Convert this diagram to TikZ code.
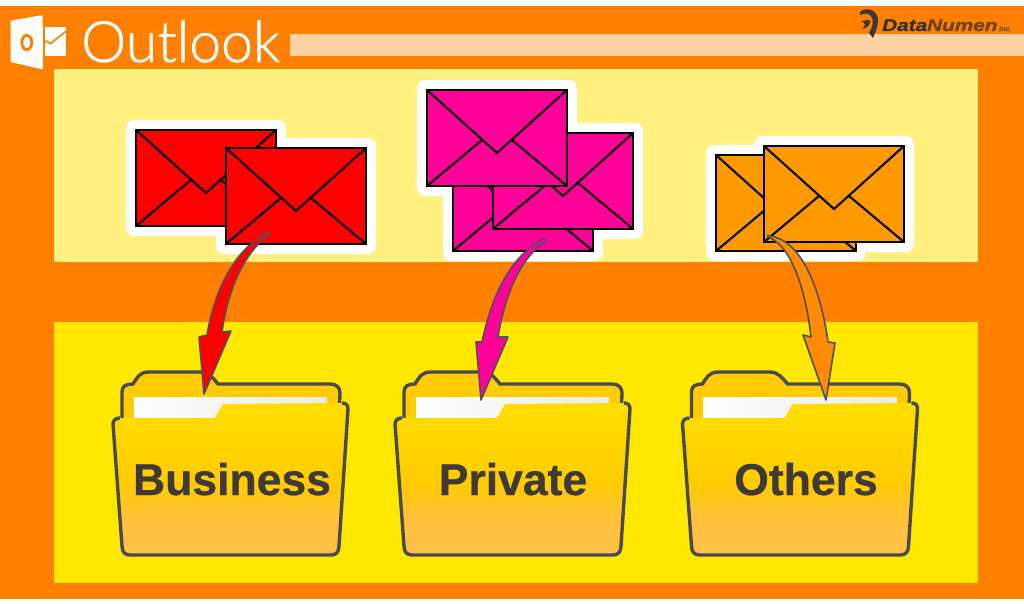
\documentclass[tikz,border=0pt]{standalone}
\usepackage{fontspec}
\setmainfont{Liberation Sans}
\newfontfamily\outlookfont[UprightFont={* Light},FakeBold=1.0]{Lato}
\newfontfamily\logofont[FakeBold=1.2]{Liberation Sans Bold Italic}
\newfontfamily\titlefont[FakeBold=0.6]{Liberation Sans Bold}
\definecolor{bandorange}{HTML}{FF8000}
\definecolor{paleband}{HTML}{FFF080}
\definecolor{yellowband}{HTML}{FFE800}
\definecolor{barpeach}{HTML}{FFD2A4}
\definecolor{folderline}{HTML}{4A4A50}
\definecolor{foldertext}{HTML}{3F3A36}
\definecolor{folderback}{HTML}{FFCC00}
\definecolor{arrowline}{HTML}{50505E}
\definecolor{envred}{HTML}{FF0000}
\definecolor{envpink}{HTML}{FF0099}
\definecolor{envorange}{HTML}{FF9900}
\definecolor{arroworange}{HTML}{FF8C00}
\pgfdeclareverticalshading{folderfront}{100bp}{
  rgb(0bp)=(1,0.75,0.29);
  rgb(25bp)=(1,0.75,0.29);
  rgb(38bp)=(1,0.76,0.22);
  rgb(49bp)=(1,0.80,0);
  rgb(75bp)=(1,0.87,0);
  rgb(100bp)=(1,0.87,0)}
\tikzset{
  envbox/.style={draw=black,line width=2.9pt,line join=miter},
  envline/.style={draw=black,line width=2.1pt},
  halo/.style={fill=white,rounded corners=8pt},
  arrowshape/.style={draw=arrowline,line width=1.6pt,line join=round},
  foldertitle/.style={anchor=base,text=foldertext,font=\titlefont\fontsize{44.5}{50}\selectfont,inner sep=0pt}
}
% envelope with top-left corner at (#1,#2), 140 x 96
\newcommand{\envelopeat}[3]{%
  \begin{scope}[shift={(#1,#2)}]
    \path[fill=#3] (0,0) rectangle (140,96);
    \draw[envline] (0,96) -- (55,50);
    \draw[envline] (140,96) -- (85,50);
    \draw[envline] (0,0) -- (70,63) -- (140,0);
    \draw[envbox] (0,0) rectangle (140,96);
  \end{scope}}
\newcommand{\haloat}[2]{\path[halo] (#1-10,#2-10) rectangle (#1+150,#2+106);}
% folder drawn in the coordinates of the first one, then shifted
\newcommand{\folderat}[1]{%
  \begin{scope}[shift={(#1,0)}]
    \path[fill=folderback,draw=folderline,line width=3.4pt,line join=round]
      (122,420) -- (122,392) .. controls (122,386) and (126,384) .. (133,384)
      .. controls (137,378) and (139,372) .. (149,372) -- (200,372)
      .. controls (209,372) and (213,378) .. (218,384) -- (330,384)
      .. controls (337,384) and (340,388) .. (340,393) -- (339,420) -- cycle;
    \shade[left color=white,right color=black!8] (134,397) rectangle (327,420);
    \shade[shading=folderfront]
      (113,424) .. controls (113,420) and (116,418) .. (120,418)
      -- (215,418) -- (223,404) -- (342,403)
      .. controls (346,403) and (348,405) .. (348,409)
      -- (339,546) .. controls (339,552) and (336,555) .. (331,555)
      -- (130,555) .. controls (125,555) and (122,552) .. (122,546) -- cycle;
    \draw[folderline,line width=3.4pt,line join=round]
      (120,418) .. controls (116,418) and (113,420) .. (113,424)
      -- (122,546) .. controls (122,552) and (125,555) .. (130,555)
      -- (331,555) .. controls (336,555) and (339,552) .. (339,546)
      -- (348,409) .. controls (348,405) and (346,403) .. (342,403);
  \end{scope}}
\begin{document}
\begin{tikzpicture}[x=1pt,y=-1pt]
\useasboundingbox (0,0) rectangle (1024,604);
\path[fill=white] (0,0) rectangle (1024,604);
% background bands
\path[fill=bandorange] (0,6) rectangle (1024,599);
\path[fill=barpeach] (290,34) rectangle (1024,56);
\path[fill=paleband] (54,69) rectangle (978,262);
\path[fill=yellowband] (54,322) rectangle (978,583);
% Outlook logo
\path[fill=white] (10.7,20.7) -- (42.7,15) -- (43,69.5) -- (10.7,62) -- cycle;
\draw[bandorange,line width=2.8pt] (26.8,42.5) ellipse [x radius=5,y radius=7.2];
\path[fill=white] (45,27) rectangle (66,55.7);
\draw[bandorange,line width=1.6pt] (44,40) -- (50.5,43.5) -- (67,30.5);
\node[anchor=base west,inner sep=0pt,text=white,font=\outlookfont\fontsize{57}{60}\selectfont] (outlook) at (81,62) {Outlook};
% DataNumen logo
\path[fill=black!78] (860,12) .. controls (866,6) and (878,10) .. (878,20)
  .. controls (878,27) and (875,33) .. (873,38) -- (869,33)
  .. controls (873,27) and (874,20) .. (871,16)
  .. controls (868,13) and (864,13) .. (860,15) -- cycle;
\path[fill=black!78] (861,21) -- (870,20) .. controls (871,24) and (868,28) .. (862,29)
  .. controls (866,26) and (866,23) .. (861,21) -- cycle;
\node[anchor=base west,inner sep=0pt,font=\logofont\fontsize{17}{18}\selectfont] (datanumen) at (882,31)
  {\scalebox{1.22}[1]{\textcolor{black!80}{Data}\textcolor[HTML]{6E4410}{Numen}}};
\node[anchor=base west,inner sep=0pt,text=black!65,font=\logofont\fontsize{7}{8}\selectfont] (inc) at (999,31) {inc.};
% folders
\folderat{0}
\folderat{282}
\folderat{569.5}
\node[foldertitle] (business) at (232,495) {Business};
\node[foldertitle] (private) at (513,495) {Private};
\node[foldertitle] (others) at (806,495) {Others};
% red envelopes
\haloat{136}{130}\haloat{226}{148}
\envelopeat{136}{130}{envred}
\envelopeat{226}{148}{envred}
% pink envelopes
\haloat{427}{90}\haloat{493}{133}\haloat{453}{155}
\envelopeat{453}{155}{envpink}
\envelopeat{493}{133}{envpink}
\envelopeat{427}{90}{envpink}
% orange envelopes
\haloat{716}{155}\haloat{764}{146}
\envelopeat{716}{155}{envorange}
\envelopeat{764}{146}{envorange}
% arrows
\draw[arrowshape,fill=envred] (204,394) -- (199,337) -- (207,335)
  .. controls (213,300) and (228,255) .. (266,233)
  .. controls (268,232) and (270,233) .. (268,235)
  .. controls (243,255) and (228,290) .. (222,332)
  -- (231,331) -- cycle;
\draw[arrowshape,fill=envpink] (481,400) -- (476,342) -- (482,342)
  .. controls (490,305) and (505,260) .. (543,239)
  .. controls (545,238) and (547,239) .. (546,241)
  .. controls (520,258) and (505,295) .. (498,337)
  -- (508,337) -- cycle;
\draw[arrowshape,fill=arroworange] (826,400) -- (803,335) -- (811,337)
  .. controls (805,285) and (790,245) .. (768,237)
  .. controls (767,235) and (768,235) .. (770,236)
  .. controls (800,240) and (820,285) .. (828,342)
  -- (835,343) -- cycle;
\end{tikzpicture}
\end{document}
